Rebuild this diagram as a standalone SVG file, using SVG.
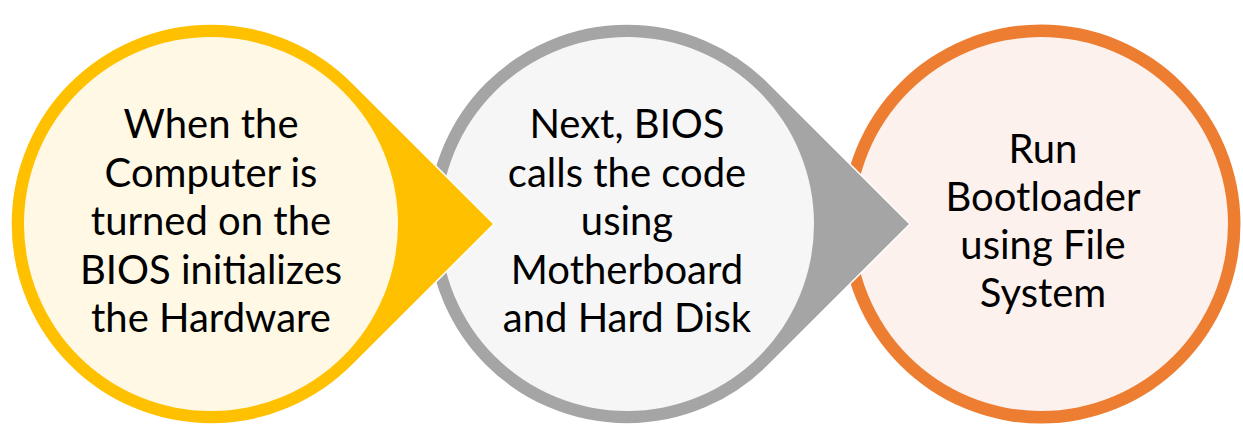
<svg xmlns="http://www.w3.org/2000/svg" width="1243" height="440" viewBox="0 0 1243 440">
<style>
.drop{stroke:#ffffff;stroke-width:1.5}
.t{font-family:Lato,"Open Sans","Liberation Sans",sans-serif;font-size:40px;fill:#000000;text-anchor:middle}
</style>
<rect width="1243" height="440" fill="#ffffff"/>
<g id="node3">
<circle cx="1041" cy="224" r="199.5" fill="#ED7D31"/>
<circle cx="1041" cy="224" r="187" fill="#FCF1EC"/>
<text class="t" x="1043" y="163">Run</text>
<text class="t" x="1043" y="211">Bootloader</text>
<text class="t" x="1043" y="259">using File</text>
<text class="t" x="1043" y="307">System</text>
</g>
<g id="node2">
<path class="drop" d="M910 224 L768.4 82.6 A200 200 0 1 0 768.4 365.4 Z" fill="#A5A5A5"/>
<circle cx="627" cy="224" r="187" fill="#F6F6F6"/>
<text class="t" x="627" y="138">Next, BIOS</text>
<text class="t" x="627" y="186.5">calls the code</text>
<text class="t" x="627" y="235">using</text>
<text class="t" x="627" y="283.5">Motherboard</text>
<text class="t" x="627" y="332">and Hard Disk</text>
</g>
<g id="node1">
<path class="drop" d="M494 224 L352.4 82.6 A200 200 0 1 0 352.4 365.4 Z" fill="#FFC000"/>
<circle cx="211" cy="224" r="187" fill="#FFF8E5"/>
<text class="t" x="211" y="138">When the</text>
<text class="t" x="211" y="186.5">Computer is</text>
<text class="t" x="211" y="235">turned on the</text>
<text class="t" x="211" y="283.5">BIOS initializes</text>
<text class="t" x="211" y="332">the Hardware</text>
</g>
<g id="connectors"/>
</svg>
